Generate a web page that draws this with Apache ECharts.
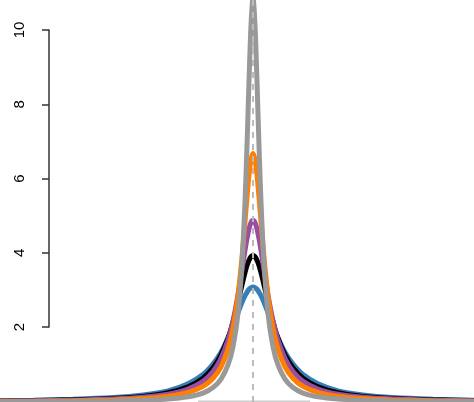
<!DOCTYPE html>
<html><head><meta charset="utf-8">
<script src="https://cdn.jsdelivr.net/npm/echarts@6/dist/echarts.min.js"></script>
<style>html,body{margin:0;padding:0;background:#fff}#c{width:474px;height:402px}</style>
</head><body><div id="c"></div>
<script>
const offsets = [0,2,4,6,8,11,15,20,25,32,40,50,65,85,110,140,180,220,260];
const blue   = [3.1,3.08,3.04,2.96,2.87,2.69,2.41,2.05,1.73,1.34,1.02,0.74,0.49,0.30,0.19,0.119,0.073,0.049,0.036];
const black  = [3.95,3.92,3.82,3.68,3.49,3.16,2.70,2.16,1.72,1.27,0.92,0.64,0.41,0.25,0.152,0.095,0.058,0.039,0.028];
const purple = [4.9,4.84,4.67,4.41,4.09,3.57,2.89,2.19,1.67,1.18,0.82,0.56,0.35,0.21,0.128,0.080,0.0485,0.033,0.023];
const orange = [6.7,6.54,6.12,5.52,4.86,3.90,2.87,1.99,1.43,0.95,0.64,0.42,0.258,0.153,0.092,0.057,0.035,0.023,0.017];
const gray   = [10.9,10.16,8.64,6.91,5.4,3.74,2.39,1.49,1.00,0.62,0.39,0.24,0.14,0.08,0.047,0.029,0.018,0.012,0.009];
const yTicks = [2,4,6,8,10];

function sym(vals){
  const pts=[];
  for(let i=offsets.length-1;i>0;i--) pts.push([-offsets[i],vals[i]]);
  for(let i=0;i<offsets.length;i++) pts.push([offsets[i],vals[i]]);
  return pts;
}
const curves=[[blue,'#377EB8'],[black,'#000000'],[purple,'#984EA3'],[orange,'#FF7F00'],[gray,'#999999']];
const series=curves.map(([v,c])=>({type:'line',data:sym(v),smooth:0.3,showSymbol:false,
  lineStyle:{color:c,width:5},xAxisIndex:0,yAxisIndex:0,silent:true,z:2}));
series.push({type:'line',data:[[0,0],[0,11]],showSymbol:false,
  lineStyle:{color:'#BBBBBB',width:2,type:[6,6]},xAxisIndex:0,yAxisIndex:0,z:5});
series.push({type:'line',data:[[-55,0],[57,0]],showSymbol:false,
  lineStyle:{color:'#CCCCCC',width:3},xAxisIndex:0,yAxisIndex:0,z:1});

const chart=echarts.init(document.getElementById('c'));
chart.setOption({
  animation:false,
  grid:[{left:0,right:0,top:0,bottom:0},{left:49,top:30,width:1,height:297}],
  xAxis:[{type:'value',min:-253,max:221,show:false},{type:'value',gridIndex:1,show:false,min:0,max:1}],
  yAxis:[{type:'value',min:0,max:10.84,show:false},
    {type:'value',gridIndex:1,min:2,max:10,interval:2,
     axisLine:{show:true,lineStyle:{color:'#333',width:1.5}},
     axisTick:{show:true,length:7,lineStyle:{color:'#333',width:1.5}},
     splitLine:{show:false},
     axisLabel:{rotate:90,margin:22,fontSize:15,color:'#000',fontFamily:'Liberation Sans, Arial',
       formatter:v=>yTicks.includes(v)?String(v):''}}],
  series:series
});
</script></body></html>
